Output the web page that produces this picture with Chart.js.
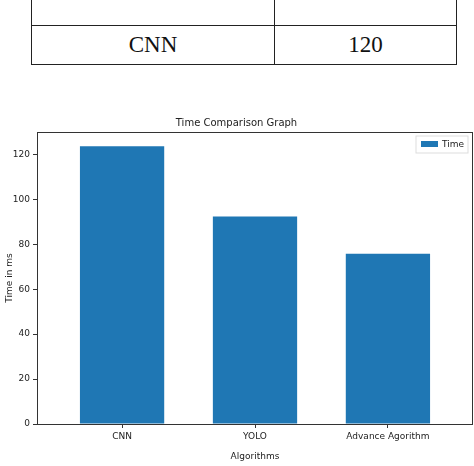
<!DOCTYPE html>
<html><head><meta charset="utf-8">
<script src="https://cdn.jsdelivr.net/npm/chart.js@4"></script>
<style>
html,body{margin:0;padding:0;background:#fff;width:474px;height:466px;overflow:hidden;position:relative}
table{position:absolute;left:31px;top:-20px;width:426px;border-collapse:collapse;font-family:"Liberation Serif",serif;font-size:23px;color:#111}
td{border:1.5px solid #222;text-align:center;padding:0}
#wrap{position:absolute;left:0;top:100px;width:474px;height:366px}
</style></head><body>
<table><tr style="height:45px"><td style="width:242px"></td><td></td></tr>
<tr style="height:39px"><td>CNN</td><td>120</td></tr></table>
<div id="wrap"><canvas id="c" width="474" height="366"></canvas></div>
<script>
const categories=["CNN","YOLO","Advance Agorithm"];
const timeValues=[123.7,92.4,75.8];
const seriesLabel="Time";
const yTicks=[0,20,40,60,80,100,120];
const color="#1f77b4";
const font={family:"DejaVu Sans",size:9};
const frame={id:"frame",afterDraw(ch){const a=ch.chartArea,x=ch.ctx;x.save();x.strokeStyle="#333";x.lineWidth=1;x.strokeRect(a.left+0.5,a.top+0.5,a.right-a.left-1,a.bottom-a.top);
x.fillStyle="#fff";x.strokeStyle="#ddd";x.fillRect(a.right-57,a.top+4,52,17);x.strokeRect(a.right-57,a.top+4,52,17);
x.fillStyle=color;x.fillRect(a.right-52,a.top+9,17,6);x.fillStyle="#222";x.font="9px DejaVu Sans";x.textBaseline="middle";x.fillText(seriesLabel,a.right-31,a.top+12.5);x.restore();}};
new Chart(document.getElementById("c"),{type:"bar",
data:{datasets:[{label:seriesLabel,data:timeValues.map((v,i)=>({x:i,y:v})),backgroundColor:color,borderWidth:0,categoryPercentage:1,barPercentage:0.634}]},
options:{responsive:false,animation:false,layout:{padding:{left:0,right:1,top:0,bottom:0}},
plugins:{legend:{display:false},tooltip:{enabled:false},title:{display:true,text:"Time Comparison Graph",color:"#222",font:{family:"DejaVu Sans",size:10,weight:"normal"},padding:{top:17,bottom:3}}},
scales:{
x:{type:"linear",offset:false,min:-0.64,max:2.64,afterBuildTicks(s){s.ticks=[0,1,2].map(v=>({value:v}));},afterFit(s){s.height=42;},
ticks:{autoSkip:false,maxRotation:0,color:"#222",font,padding:3,callback:v=>categories[v]},
grid:{offset:false,drawOnChartArea:false,tickLength:4,color:"#333"},border:{display:false},
title:{display:true,text:"Algorithms",color:"#222",font,padding:{top:10}}},
y:{min:0,max:130,afterBuildTicks(s){s.ticks=yTicks.map(v=>({value:v}));},afterFit(s){s.width=37;},
ticks:{color:"#222",font,padding:3},grid:{drawOnChartArea:false,tickLength:4,color:"#333"},border:{display:false},
title:{display:true,text:"Time in ms",color:"#222",font,padding:{bottom:0}}}}},
plugins:[frame]});
</script></body></html>
